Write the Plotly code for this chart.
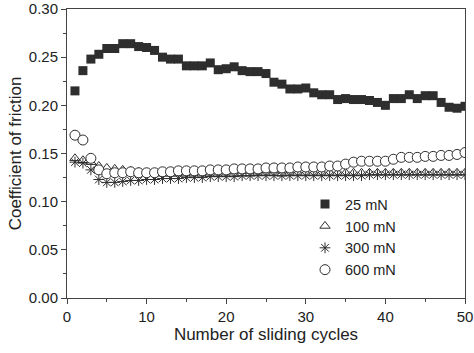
import plotly.graph_objects as go

cycles = list(range(1, 51))

mn25 = [0.215, 0.236, 0.248, 0.253, 0.259, 0.259, 0.264, 0.264, 0.261, 0.260,
        0.257, 0.250, 0.248, 0.248, 0.241, 0.241, 0.241, 0.244, 0.237, 0.238,
        0.240, 0.236, 0.235, 0.235, 0.233, 0.224, 0.222, 0.217, 0.217, 0.218,
        0.213, 0.211, 0.211, 0.206, 0.207, 0.206, 0.206, 0.205, 0.203, 0.200,
        0.207, 0.207, 0.211, 0.207, 0.210, 0.210, 0.203, 0.198, 0.197, 0.199]

mn100 = [0.145, 0.143, 0.141, 0.137, 0.135, 0.134, 0.133, 0.132, 0.131, 0.130,
         0.130, 0.129, 0.129, 0.129, 0.129, 0.129, 0.129, 0.129, 0.129, 0.129,
         0.129, 0.129, 0.129, 0.130, 0.130, 0.130, 0.129, 0.130, 0.130, 0.130,
         0.130, 0.130, 0.130, 0.130, 0.130, 0.130, 0.130, 0.130, 0.130, 0.130,
         0.130, 0.130, 0.130, 0.130, 0.130, 0.130, 0.130, 0.130, 0.130, 0.130]

mn300 = [0.141, 0.140, 0.133, 0.123, 0.120, 0.120, 0.121, 0.122, 0.122, 0.123,
         0.123, 0.124, 0.124, 0.124, 0.125, 0.125, 0.125, 0.126, 0.126, 0.126,
         0.126, 0.127, 0.127, 0.127, 0.127, 0.127, 0.127, 0.127, 0.127, 0.127,
         0.127, 0.127, 0.127, 0.127, 0.127, 0.127, 0.127, 0.128, 0.128, 0.128,
         0.128, 0.128, 0.128, 0.128, 0.128, 0.128, 0.128, 0.128, 0.128, 0.128]

mn600 = [0.169, 0.164, 0.145, 0.133, 0.129, 0.130, 0.130, 0.131, 0.130, 0.130,
         0.130, 0.131, 0.131, 0.132, 0.132, 0.132, 0.132, 0.133, 0.133, 0.133,
         0.134, 0.134, 0.134, 0.134, 0.135, 0.135, 0.135, 0.135, 0.136, 0.136,
         0.136, 0.136, 0.137, 0.137, 0.139, 0.141, 0.142, 0.142, 0.142, 0.142,
         0.144, 0.146, 0.146, 0.146, 0.147, 0.147, 0.148, 0.148, 0.149, 0.151]

series_names = ["25 mN", "100 mN", "300 mN", "600 mN"]

ink = "#2e2e2e"
font = "Liberation Sans, Arial, sans-serif"

fig = go.Figure()
fig.add_trace(go.Scatter(x=cycles, y=mn25, mode="markers", name=series_names[0],
                         marker=dict(symbol="square", size=9, color=ink,
                                     line=dict(width=0))))
fig.add_trace(go.Scatter(x=cycles, y=mn100, mode="markers", name=series_names[1],
                         marker=dict(symbol="triangle-up", size=9, color="white",
                                     line=dict(width=1, color=ink))))
fig.add_trace(go.Scatter(x=cycles, y=mn300, mode="markers", name=series_names[2],
                         marker=dict(symbol="asterisk-open", size=9, color=ink,
                                     line=dict(width=1, color=ink))))
fig.add_trace(go.Scatter(x=cycles, y=mn600, mode="markers", name=series_names[3],
                         marker=dict(symbol="circle", size=10, color="white",
                                     line=dict(width=1, color=ink))))

axis_common = dict(showgrid=False, zeroline=False, showline=True, linecolor="#444",
                   linewidth=1, mirror=True, ticks="outside", ticklen=5,
                   tickcolor="#444", automargin=False,
                   tickfont=dict(family=font, size=15, color="#222"))

fig.update_xaxes(range=[0, 50], dtick=10, tick0=0,
                 minor=dict(dtick=5, ticks="outside", ticklen=3, tickcolor="#444"),
                 title=dict(text="Number of sliding cycles",
                            font=dict(family=font, size=17, color="#222"), standoff=2),
                 **axis_common)
fig.update_yaxes(range=[0, 0.30], dtick=0.05, tick0=0, tickformat=".2f",
                 minor=dict(dtick=0.025, ticks="outside", ticklen=3, tickcolor="#444"),
                 title=dict(text="Coefficient of friction",
                            font=dict(family=font, size=17, color="#222"), standoff=2),
                 **axis_common)

fig.update_layout(
    width=474, height=353,
    margin=dict(l=67, r=9, t=9, b=55),
    paper_bgcolor="white", plot_bgcolor="white",
    showlegend=True,
    legend=dict(x=0.598, y=0.38, xanchor="left", yanchor="top",
                bgcolor="rgba(0,0,0,0)", borderwidth=0,
                font=dict(family=font, size=14.5, color="#222"),
                tracegroupgap=0, itemwidth=30),
    font=dict(family=font),
)

fig.write_html("out.html")
